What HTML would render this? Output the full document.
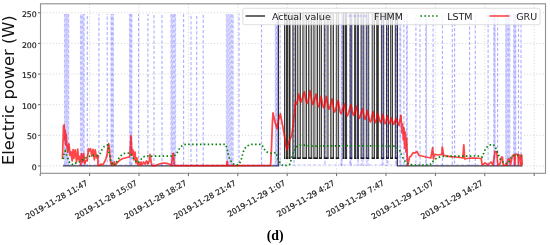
<!DOCTYPE html>
<html><head><meta charset="utf-8"><style>
html,body{margin:0;padding:0;background:#fff;}
svg{display:block;}
.t{font-family:"DejaVu Sans","Liberation Sans",sans-serif;font-size:7.8px;fill:#1a1a1a;stroke:#1a1a1a;stroke-width:0.18px;}
.yl{font-family:"DejaVu Sans","Liberation Sans",sans-serif;font-size:16.3px;fill:#111;}
.lg{font-family:"DejaVu Sans","Liberation Sans",sans-serif;font-size:9.5px;fill:#222;}
.cap{font-family:"Liberation Serif","DejaVu Serif",serif;font-size:13.8px;font-weight:bold;fill:#000;}
</style></head><body>
<svg width="550" height="245" viewBox="0 0 550 245">
<rect width="550" height="245" fill="#fff"/>
<path d="M89.6 4.0V173.4M139.0 4.0V173.4M188.4 4.0V173.4M237.8 4.0V173.4M287.2 4.0V173.4M336.6 4.0V173.4M386.0 4.0V173.4M435.4 4.0V173.4M484.8 4.0V173.4M534.2 4.0V173.4M40.4 165.9H545.5M40.4 135.3H545.5M40.4 104.7H545.5M40.4 74.1H545.5M40.4 43.4H545.5M40.4 12.8H545.5" stroke="#cdcdcd" stroke-width="0.8" stroke-dasharray="1.1 2" fill="none"/>
<path d="M63 165.9H278.4V12.8H397.4V165.9H522.5" stroke="#444" stroke-width="1.3" fill="none"/>
<rect x="278.45" y="12.8" width="0.05" height="145.4" fill="#3a3a3a" stroke="#2a2a2a" stroke-width="0.9"/>
<path d="M278.0 158.2H278.9" stroke="#1a1a1a" stroke-width="1.5"/>
<rect x="284.55" y="12.8" width="0.30" height="145.4" fill="#3a3a3a" stroke="#2a2a2a" stroke-width="0.9"/>
<path d="M284.1 158.2H285.3" stroke="#1a1a1a" stroke-width="1.5"/>
<rect x="286.45" y="12.8" width="1.20" height="145.4" fill="#3a3a3a" stroke="#2a2a2a" stroke-width="0.9"/>
<path d="M286.0 158.2H288.1" stroke="#1a1a1a" stroke-width="1.5"/>
<rect x="289.15" y="12.8" width="0.90" height="145.4" fill="#3a3a3a" stroke="#2a2a2a" stroke-width="0.9"/>
<path d="M288.7 158.2H290.5" stroke="#1a1a1a" stroke-width="1.5"/>
<rect x="292.85" y="12.8" width="2.70" height="145.4" fill="#b4b4b4" stroke="#2a2a2a" stroke-width="0.9"/>
<path d="M292.4 158.2H296.0" stroke="#1a1a1a" stroke-width="1.5"/>
<rect x="297.25" y="12.8" width="3.10" height="145.4" fill="#b4b4b4" stroke="#2a2a2a" stroke-width="0.9"/>
<path d="M296.8 158.2H300.8" stroke="#1a1a1a" stroke-width="1.5"/>
<rect x="302.85" y="12.8" width="3.70" height="145.4" fill="#b4b4b4" stroke="#2a2a2a" stroke-width="0.9"/>
<path d="M302.4 158.2H307.0" stroke="#1a1a1a" stroke-width="1.5"/>
<rect x="308.65" y="12.8" width="3.10" height="145.4" fill="#b4b4b4" stroke="#2a2a2a" stroke-width="0.9"/>
<path d="M308.2 158.2H312.2" stroke="#1a1a1a" stroke-width="1.5"/>
<rect x="313.85" y="12.8" width="3.60" height="145.4" fill="#b4b4b4" stroke="#2a2a2a" stroke-width="0.9"/>
<path d="M313.4 158.2H317.9" stroke="#1a1a1a" stroke-width="1.5"/>
<rect x="319.35" y="12.8" width="2.20" height="145.4" fill="#b4b4b4" stroke="#2a2a2a" stroke-width="0.9"/>
<path d="M318.9 158.2H322.0" stroke="#1a1a1a" stroke-width="1.5"/>
<rect x="324.25" y="12.8" width="3.80" height="145.4" fill="#b4b4b4" stroke="#2a2a2a" stroke-width="0.9"/>
<path d="M323.8 158.2H328.5" stroke="#1a1a1a" stroke-width="1.5"/>
<rect x="330.75" y="12.8" width="2.70" height="145.4" fill="#b4b4b4" stroke="#2a2a2a" stroke-width="0.9"/>
<path d="M330.3 158.2H333.9" stroke="#1a1a1a" stroke-width="1.5"/>
<rect x="336.25" y="12.8" width="2.40" height="145.4" fill="#b4b4b4" stroke="#2a2a2a" stroke-width="0.9"/>
<path d="M335.8 158.2H339.1" stroke="#1a1a1a" stroke-width="1.5"/>
<rect x="343.05" y="12.8" width="0.90" height="145.4" fill="#3a3a3a" stroke="#2a2a2a" stroke-width="0.9"/>
<path d="M342.6 158.2H344.4" stroke="#1a1a1a" stroke-width="1.5"/>
<rect x="345.45" y="12.8" width="1.20" height="145.4" fill="#3a3a3a" stroke="#2a2a2a" stroke-width="0.9"/>
<path d="M345.0 158.2H347.1" stroke="#1a1a1a" stroke-width="1.5"/>
<rect x="350.05" y="12.8" width="1.80" height="145.4" fill="#b4b4b4" stroke="#2a2a2a" stroke-width="0.9"/>
<path d="M349.6 158.2H352.3" stroke="#1a1a1a" stroke-width="1.5"/>
<rect x="354.65" y="12.8" width="1.20" height="145.4" fill="#3a3a3a" stroke="#2a2a2a" stroke-width="0.9"/>
<path d="M354.2 158.2H356.3" stroke="#1a1a1a" stroke-width="1.5"/>
<rect x="357.65" y="12.8" width="0.70" height="145.4" fill="#3a3a3a" stroke="#2a2a2a" stroke-width="0.9"/>
<path d="M357.2 158.2H358.8" stroke="#1a1a1a" stroke-width="1.5"/>
<rect x="361.05" y="12.8" width="2.80" height="145.4" fill="#b4b4b4" stroke="#2a2a2a" stroke-width="0.9"/>
<path d="M360.6 158.2H364.3" stroke="#1a1a1a" stroke-width="1.5"/>
<rect x="366.25" y="12.8" width="2.50" height="145.4" fill="#b4b4b4" stroke="#2a2a2a" stroke-width="0.9"/>
<path d="M365.8 158.2H369.2" stroke="#1a1a1a" stroke-width="1.5"/>
<rect x="372.15" y="12.8" width="2.40" height="145.4" fill="#b4b4b4" stroke="#2a2a2a" stroke-width="0.9"/>
<path d="M371.7 158.2H375.0" stroke="#1a1a1a" stroke-width="1.5"/>
<rect x="376.75" y="12.8" width="1.50" height="145.4" fill="#3a3a3a" stroke="#2a2a2a" stroke-width="0.9"/>
<path d="M376.3 158.2H378.7" stroke="#1a1a1a" stroke-width="1.5"/>
<rect x="381.35" y="12.8" width="2.40" height="145.4" fill="#b4b4b4" stroke="#2a2a2a" stroke-width="0.9"/>
<path d="M380.9 158.2H384.2" stroke="#1a1a1a" stroke-width="1.5"/>
<rect x="386.45" y="12.8" width="2.10" height="145.4" fill="#b4b4b4" stroke="#2a2a2a" stroke-width="0.9"/>
<path d="M386.0 158.2H389.0" stroke="#1a1a1a" stroke-width="1.5"/>
<rect x="390.65" y="12.8" width="1.90" height="145.4" fill="#b4b4b4" stroke="#2a2a2a" stroke-width="0.9"/>
<path d="M390.2 158.2H393.0" stroke="#1a1a1a" stroke-width="1.5"/>
<rect x="395.25" y="12.8" width="2.20" height="145.4" fill="#b4b4b4" stroke="#2a2a2a" stroke-width="0.9"/>
<path d="M394.8 158.2H397.9" stroke="#1a1a1a" stroke-width="1.5"/>
<path d="M63 164.9H522.5" stroke="#0000ff" stroke-opacity="0.22" stroke-width="1" stroke-dasharray="3.2 1.9"/>
<rect x="64.0" y="14.0" width="5.2" height="151.9" fill="#0000ff" fill-opacity="0.08"/>
<rect x="80.0" y="14.0" width="4.7" height="151.9" fill="#0000ff" fill-opacity="0.08"/>
<rect x="110.5" y="14.0" width="3.4" height="151.9" fill="#0000ff" fill-opacity="0.08"/>
<rect x="129.0" y="14.0" width="3.4" height="151.9" fill="#0000ff" fill-opacity="0.08"/>
<rect x="170.4" y="14.0" width="5.6" height="151.9" fill="#0000ff" fill-opacity="0.08"/>
<rect x="225.9" y="14.0" width="7.8" height="151.9" fill="#0000ff" fill-opacity="0.08"/>
<rect x="274.8" y="14.0" width="3.2" height="151.9" fill="#0000ff" fill-opacity="0.08"/>
<rect x="399.3" y="14.0" width="2.0" height="151.9" fill="#0000ff" fill-opacity="0.08"/>
<rect x="406.0" y="14.0" width="1.8" height="151.9" fill="#0000ff" fill-opacity="0.08"/>
<rect x="425.2" y="14.0" width="1.8" height="151.9" fill="#0000ff" fill-opacity="0.08"/>
<rect x="493.3" y="14.0" width="2.3" height="151.9" fill="#0000ff" fill-opacity="0.08"/>
<rect x="505.2" y="14.0" width="5.1" height="151.9" fill="#0000ff" fill-opacity="0.08"/>
<rect x="513.2" y="14.0" width="3.1" height="151.9" fill="#0000ff" fill-opacity="0.08"/>
<path d="M87.3 165.9V14.0" stroke="#0000ff" stroke-opacity="0.32" stroke-width="1.1" stroke-dasharray="3.2 1.9" stroke-dashoffset="1.2"/>
<path d="M98.9 165.9V14.0" stroke="#0000ff" stroke-opacity="0.32" stroke-width="1.1" stroke-dasharray="3.2 1.9" stroke-dashoffset="2.7"/>
<path d="M107.2 165.9V14.0" stroke="#0000ff" stroke-opacity="0.32" stroke-width="1.1" stroke-dasharray="3.2 1.9" stroke-dashoffset="1.8"/>
<path d="M138.6 165.9V14.0" stroke="#0000ff" stroke-opacity="0.32" stroke-width="1.1" stroke-dasharray="3.2 1.9" stroke-dashoffset="3.0"/>
<path d="M147.9 165.9V14.0" stroke="#0000ff" stroke-opacity="0.32" stroke-width="1.1" stroke-dasharray="3.2 1.9" stroke-dashoffset="3.1"/>
<path d="M154.0 165.9V14.0" stroke="#0000ff" stroke-opacity="0.32" stroke-width="1.1" stroke-dasharray="3.2 1.9" stroke-dashoffset="0.3"/>
<path d="M162.0 165.9V14.0" stroke="#0000ff" stroke-opacity="0.32" stroke-width="1.1" stroke-dasharray="3.2 1.9" stroke-dashoffset="0.1"/>
<path d="M183.6 165.9V14.0" stroke="#0000ff" stroke-opacity="0.32" stroke-width="1.1" stroke-dasharray="3.2 1.9" stroke-dashoffset="4.2"/>
<path d="M191.0 165.9V14.0" stroke="#0000ff" stroke-opacity="0.32" stroke-width="1.1" stroke-dasharray="3.2 1.9" stroke-dashoffset="1.3"/>
<path d="M196.7 165.9V14.0" stroke="#0000ff" stroke-opacity="0.32" stroke-width="1.1" stroke-dasharray="3.2 1.9" stroke-dashoffset="1.2"/>
<path d="M203.2 165.9V14.0" stroke="#0000ff" stroke-opacity="0.32" stroke-width="1.1" stroke-dasharray="3.2 1.9" stroke-dashoffset="5.0"/>
<path d="M239.0 165.9V14.0" stroke="#0000ff" stroke-opacity="0.32" stroke-width="1.1" stroke-dasharray="3.2 1.9" stroke-dashoffset="2.4"/>
<path d="M261.5 165.9V14.0" stroke="#0000ff" stroke-opacity="0.32" stroke-width="1.1" stroke-dasharray="3.2 1.9" stroke-dashoffset="4.2"/>
<path d="M294.0 165.9V14.0" stroke="#0000ff" stroke-opacity="0.32" stroke-width="1.1" stroke-dasharray="3.2 1.9" stroke-dashoffset="2.4"/>
<path d="M325.0 165.9V14.0" stroke="#0000ff" stroke-opacity="0.32" stroke-width="1.1" stroke-dasharray="3.2 1.9" stroke-dashoffset="3.2"/>
<path d="M342.0 165.9V14.0" stroke="#0000ff" stroke-opacity="0.32" stroke-width="1.1" stroke-dasharray="3.2 1.9" stroke-dashoffset="0.8"/>
<path d="M350.0 165.9V14.0" stroke="#0000ff" stroke-opacity="0.32" stroke-width="1.1" stroke-dasharray="3.2 1.9" stroke-dashoffset="3.2"/>
<path d="M403.9 165.9V14.0" stroke="#0000ff" stroke-opacity="0.32" stroke-width="1.1" stroke-dasharray="3.2 1.9" stroke-dashoffset="4.3"/>
<path d="M415.9 165.9V14.0" stroke="#0000ff" stroke-opacity="0.32" stroke-width="1.1" stroke-dasharray="3.2 1.9" stroke-dashoffset="2.6"/>
<path d="M420.0 165.9V14.0" stroke="#0000ff" stroke-opacity="0.32" stroke-width="1.1" stroke-dasharray="3.2 1.9" stroke-dashoffset="3.7"/>
<path d="M433.1 165.9V14.0" stroke="#0000ff" stroke-opacity="0.32" stroke-width="1.1" stroke-dasharray="3.2 1.9" stroke-dashoffset="3.4"/>
<path d="M442.4 165.9V14.0" stroke="#0000ff" stroke-opacity="0.32" stroke-width="1.1" stroke-dasharray="3.2 1.9" stroke-dashoffset="0.3"/>
<path d="M452.3 165.9V14.0" stroke="#0000ff" stroke-opacity="0.32" stroke-width="1.1" stroke-dasharray="3.2 1.9" stroke-dashoffset="3.8"/>
<path d="M454.6 165.9V14.0" stroke="#0000ff" stroke-opacity="0.32" stroke-width="1.1" stroke-dasharray="3.2 1.9" stroke-dashoffset="3.0"/>
<path d="M469.6 165.9V14.0" stroke="#0000ff" stroke-opacity="0.32" stroke-width="1.1" stroke-dasharray="3.2 1.9" stroke-dashoffset="1.5"/>
<path d="M475.3 165.9V14.0" stroke="#0000ff" stroke-opacity="0.32" stroke-width="1.1" stroke-dasharray="3.2 1.9" stroke-dashoffset="0.2"/>
<path d="M488.1 165.9V14.0" stroke="#0000ff" stroke-opacity="0.32" stroke-width="1.1" stroke-dasharray="3.2 1.9" stroke-dashoffset="4.3"/>
<path d="M497.6 165.9V14.0" stroke="#0000ff" stroke-opacity="0.32" stroke-width="1.1" stroke-dasharray="3.2 1.9" stroke-dashoffset="2.4"/>
<path d="M518.5 165.9V14.0" stroke="#0000ff" stroke-opacity="0.32" stroke-width="1.1" stroke-dasharray="3.2 1.9" stroke-dashoffset="3.6"/>
<path d="M521.0 165.9V14.0" stroke="#0000ff" stroke-opacity="0.32" stroke-width="1.1" stroke-dasharray="3.2 1.9" stroke-dashoffset="4.4"/>
<path d="M64.4 165.9V14.0" stroke="#0000ff" stroke-opacity="0.15" stroke-width="1.1" stroke-dasharray="3.2 1.9" stroke-dashoffset="3.6"/>
<path d="M65.1 165.9V14.0" stroke="#0000ff" stroke-opacity="0.15" stroke-width="1.1" stroke-dasharray="3.2 1.9" stroke-dashoffset="4.6"/>
<path d="M65.9 165.9V14.0" stroke="#0000ff" stroke-opacity="0.15" stroke-width="1.1" stroke-dasharray="3.2 1.9" stroke-dashoffset="2.0"/>
<path d="M66.6 165.9V14.0" stroke="#0000ff" stroke-opacity="0.15" stroke-width="1.1" stroke-dasharray="3.2 1.9" stroke-dashoffset="4.0"/>
<path d="M67.3 165.9V14.0" stroke="#0000ff" stroke-opacity="0.15" stroke-width="1.1" stroke-dasharray="3.2 1.9" stroke-dashoffset="2.2"/>
<path d="M68.1 165.9V14.0" stroke="#0000ff" stroke-opacity="0.15" stroke-width="1.1" stroke-dasharray="3.2 1.9" stroke-dashoffset="4.7"/>
<path d="M68.8 165.9V14.0" stroke="#0000ff" stroke-opacity="0.15" stroke-width="1.1" stroke-dasharray="3.2 1.9" stroke-dashoffset="4.4"/>
<path d="M80.4 165.9V14.0" stroke="#0000ff" stroke-opacity="0.15" stroke-width="1.1" stroke-dasharray="3.2 1.9" stroke-dashoffset="0.5"/>
<path d="M81.2 165.9V14.0" stroke="#0000ff" stroke-opacity="0.15" stroke-width="1.1" stroke-dasharray="3.2 1.9" stroke-dashoffset="0.7"/>
<path d="M82.0 165.9V14.0" stroke="#0000ff" stroke-opacity="0.15" stroke-width="1.1" stroke-dasharray="3.2 1.9" stroke-dashoffset="1.1"/>
<path d="M82.7 165.9V14.0" stroke="#0000ff" stroke-opacity="0.15" stroke-width="1.1" stroke-dasharray="3.2 1.9" stroke-dashoffset="4.8"/>
<path d="M83.5 165.9V14.0" stroke="#0000ff" stroke-opacity="0.15" stroke-width="1.1" stroke-dasharray="3.2 1.9" stroke-dashoffset="2.2"/>
<path d="M84.3 165.9V14.0" stroke="#0000ff" stroke-opacity="0.15" stroke-width="1.1" stroke-dasharray="3.2 1.9" stroke-dashoffset="3.1"/>
<path d="M110.9 165.9V14.0" stroke="#0000ff" stroke-opacity="0.15" stroke-width="1.1" stroke-dasharray="3.2 1.9" stroke-dashoffset="1.5"/>
<path d="M111.5 165.9V14.0" stroke="#0000ff" stroke-opacity="0.15" stroke-width="1.1" stroke-dasharray="3.2 1.9" stroke-dashoffset="2.5"/>
<path d="M112.2 165.9V14.0" stroke="#0000ff" stroke-opacity="0.15" stroke-width="1.1" stroke-dasharray="3.2 1.9" stroke-dashoffset="1.9"/>
<path d="M112.8 165.9V14.0" stroke="#0000ff" stroke-opacity="0.15" stroke-width="1.1" stroke-dasharray="3.2 1.9" stroke-dashoffset="1.8"/>
<path d="M113.5 165.9V14.0" stroke="#0000ff" stroke-opacity="0.15" stroke-width="1.1" stroke-dasharray="3.2 1.9" stroke-dashoffset="2.9"/>
<path d="M129.4 165.9V14.0" stroke="#0000ff" stroke-opacity="0.15" stroke-width="1.1" stroke-dasharray="3.2 1.9" stroke-dashoffset="2.9"/>
<path d="M130.1 165.9V14.0" stroke="#0000ff" stroke-opacity="0.15" stroke-width="1.1" stroke-dasharray="3.2 1.9" stroke-dashoffset="4.5"/>
<path d="M130.7 165.9V14.0" stroke="#0000ff" stroke-opacity="0.15" stroke-width="1.1" stroke-dasharray="3.2 1.9" stroke-dashoffset="3.4"/>
<path d="M131.3 165.9V14.0" stroke="#0000ff" stroke-opacity="0.15" stroke-width="1.1" stroke-dasharray="3.2 1.9" stroke-dashoffset="4.6"/>
<path d="M132.0 165.9V14.0" stroke="#0000ff" stroke-opacity="0.15" stroke-width="1.1" stroke-dasharray="3.2 1.9" stroke-dashoffset="4.3"/>
<path d="M170.8 165.9V14.0" stroke="#0000ff" stroke-opacity="0.15" stroke-width="1.1" stroke-dasharray="3.2 1.9" stroke-dashoffset="5.0"/>
<path d="M171.6 165.9V14.0" stroke="#0000ff" stroke-opacity="0.15" stroke-width="1.1" stroke-dasharray="3.2 1.9" stroke-dashoffset="3.4"/>
<path d="M172.4 165.9V14.0" stroke="#0000ff" stroke-opacity="0.15" stroke-width="1.1" stroke-dasharray="3.2 1.9" stroke-dashoffset="0.8"/>
<path d="M173.2 165.9V14.0" stroke="#0000ff" stroke-opacity="0.15" stroke-width="1.1" stroke-dasharray="3.2 1.9" stroke-dashoffset="4.3"/>
<path d="M174.0 165.9V14.0" stroke="#0000ff" stroke-opacity="0.15" stroke-width="1.1" stroke-dasharray="3.2 1.9" stroke-dashoffset="4.8"/>
<path d="M174.8 165.9V14.0" stroke="#0000ff" stroke-opacity="0.15" stroke-width="1.1" stroke-dasharray="3.2 1.9" stroke-dashoffset="4.5"/>
<path d="M175.6 165.9V14.0" stroke="#0000ff" stroke-opacity="0.15" stroke-width="1.1" stroke-dasharray="3.2 1.9" stroke-dashoffset="2.8"/>
<path d="M226.3 165.9V14.0" stroke="#0000ff" stroke-opacity="0.15" stroke-width="1.1" stroke-dasharray="3.2 1.9" stroke-dashoffset="3.6"/>
<path d="M227.2 165.9V14.0" stroke="#0000ff" stroke-opacity="0.15" stroke-width="1.1" stroke-dasharray="3.2 1.9" stroke-dashoffset="1.1"/>
<path d="M228.0 165.9V14.0" stroke="#0000ff" stroke-opacity="0.15" stroke-width="1.1" stroke-dasharray="3.2 1.9" stroke-dashoffset="4.2"/>
<path d="M228.9 165.9V14.0" stroke="#0000ff" stroke-opacity="0.15" stroke-width="1.1" stroke-dasharray="3.2 1.9" stroke-dashoffset="2.9"/>
<path d="M229.8 165.9V14.0" stroke="#0000ff" stroke-opacity="0.15" stroke-width="1.1" stroke-dasharray="3.2 1.9" stroke-dashoffset="1.4"/>
<path d="M230.7 165.9V14.0" stroke="#0000ff" stroke-opacity="0.15" stroke-width="1.1" stroke-dasharray="3.2 1.9" stroke-dashoffset="0.3"/>
<path d="M231.5 165.9V14.0" stroke="#0000ff" stroke-opacity="0.15" stroke-width="1.1" stroke-dasharray="3.2 1.9" stroke-dashoffset="4.3"/>
<path d="M232.4 165.9V14.0" stroke="#0000ff" stroke-opacity="0.15" stroke-width="1.1" stroke-dasharray="3.2 1.9" stroke-dashoffset="4.9"/>
<path d="M233.3 165.9V14.0" stroke="#0000ff" stroke-opacity="0.15" stroke-width="1.1" stroke-dasharray="3.2 1.9" stroke-dashoffset="0.4"/>
<path d="M275.2 165.9V14.0" stroke="#0000ff" stroke-opacity="0.15" stroke-width="1.1" stroke-dasharray="3.2 1.9" stroke-dashoffset="4.0"/>
<path d="M275.8 165.9V14.0" stroke="#0000ff" stroke-opacity="0.15" stroke-width="1.1" stroke-dasharray="3.2 1.9" stroke-dashoffset="2.1"/>
<path d="M276.4 165.9V14.0" stroke="#0000ff" stroke-opacity="0.15" stroke-width="1.1" stroke-dasharray="3.2 1.9" stroke-dashoffset="0.8"/>
<path d="M277.0 165.9V14.0" stroke="#0000ff" stroke-opacity="0.15" stroke-width="1.1" stroke-dasharray="3.2 1.9" stroke-dashoffset="1.5"/>
<path d="M277.6 165.9V14.0" stroke="#0000ff" stroke-opacity="0.15" stroke-width="1.1" stroke-dasharray="3.2 1.9" stroke-dashoffset="3.8"/>
<path d="M280.2 165.9V14.0" stroke="#0000ff" stroke-opacity="0.15" stroke-width="1.1" stroke-dasharray="3.2 1.9" stroke-dashoffset="4.4"/>
<path d="M280.2 165.9V14.0" stroke="#0000ff" stroke-opacity="0.15" stroke-width="1.1" stroke-dasharray="3.2 1.9" stroke-dashoffset="0.2"/>
<path d="M340.9 165.9V14.0" stroke="#0000ff" stroke-opacity="0.15" stroke-width="1.1" stroke-dasharray="3.2 1.9" stroke-dashoffset="3.1"/>
<path d="M341.4 165.9V14.0" stroke="#0000ff" stroke-opacity="0.15" stroke-width="1.1" stroke-dasharray="3.2 1.9" stroke-dashoffset="0.2"/>
<path d="M341.9 165.9V14.0" stroke="#0000ff" stroke-opacity="0.15" stroke-width="1.1" stroke-dasharray="3.2 1.9" stroke-dashoffset="3.6"/>
<path d="M350.4 165.9V14.0" stroke="#0000ff" stroke-opacity="0.15" stroke-width="1.1" stroke-dasharray="3.2 1.9" stroke-dashoffset="1.7"/>
<path d="M351.0 165.9V14.0" stroke="#0000ff" stroke-opacity="0.15" stroke-width="1.1" stroke-dasharray="3.2 1.9" stroke-dashoffset="4.4"/>
<path d="M351.5 165.9V14.0" stroke="#0000ff" stroke-opacity="0.15" stroke-width="1.1" stroke-dasharray="3.2 1.9" stroke-dashoffset="4.9"/>
<path d="M357.8 165.9V14.0" stroke="#0000ff" stroke-opacity="0.15" stroke-width="1.1" stroke-dasharray="3.2 1.9" stroke-dashoffset="2.5"/>
<path d="M358.0 165.9V14.0" stroke="#0000ff" stroke-opacity="0.15" stroke-width="1.1" stroke-dasharray="3.2 1.9" stroke-dashoffset="5.0"/>
<path d="M358.2 165.9V14.0" stroke="#0000ff" stroke-opacity="0.15" stroke-width="1.1" stroke-dasharray="3.2 1.9" stroke-dashoffset="1.5"/>
<path d="M361.4 165.9V14.0" stroke="#0000ff" stroke-opacity="0.15" stroke-width="1.1" stroke-dasharray="3.2 1.9" stroke-dashoffset="0.4"/>
<path d="M362.1 165.9V14.0" stroke="#0000ff" stroke-opacity="0.15" stroke-width="1.1" stroke-dasharray="3.2 1.9" stroke-dashoffset="3.0"/>
<path d="M362.7 165.9V14.0" stroke="#0000ff" stroke-opacity="0.15" stroke-width="1.1" stroke-dasharray="3.2 1.9" stroke-dashoffset="0.2"/>
<path d="M363.4 165.9V14.0" stroke="#0000ff" stroke-opacity="0.15" stroke-width="1.1" stroke-dasharray="3.2 1.9" stroke-dashoffset="1.0"/>
<path d="M366.4 165.9V14.0" stroke="#0000ff" stroke-opacity="0.15" stroke-width="1.1" stroke-dasharray="3.2 1.9" stroke-dashoffset="2.0"/>
<path d="M367.1 165.9V14.0" stroke="#0000ff" stroke-opacity="0.15" stroke-width="1.1" stroke-dasharray="3.2 1.9" stroke-dashoffset="3.1"/>
<path d="M367.7 165.9V14.0" stroke="#0000ff" stroke-opacity="0.15" stroke-width="1.1" stroke-dasharray="3.2 1.9" stroke-dashoffset="0.8"/>
<path d="M368.4 165.9V14.0" stroke="#0000ff" stroke-opacity="0.15" stroke-width="1.1" stroke-dasharray="3.2 1.9" stroke-dashoffset="0.2"/>
<path d="M381.9 165.9V14.0" stroke="#0000ff" stroke-opacity="0.15" stroke-width="1.1" stroke-dasharray="3.2 1.9" stroke-dashoffset="4.3"/>
<path d="M382.4 165.9V14.0" stroke="#0000ff" stroke-opacity="0.15" stroke-width="1.1" stroke-dasharray="3.2 1.9" stroke-dashoffset="1.6"/>
<path d="M382.9 165.9V14.0" stroke="#0000ff" stroke-opacity="0.15" stroke-width="1.1" stroke-dasharray="3.2 1.9" stroke-dashoffset="4.8"/>
<path d="M383.4 165.9V14.0" stroke="#0000ff" stroke-opacity="0.15" stroke-width="1.1" stroke-dasharray="3.2 1.9" stroke-dashoffset="4.5"/>
<path d="M386.6 165.9V14.0" stroke="#0000ff" stroke-opacity="0.15" stroke-width="1.1" stroke-dasharray="3.2 1.9" stroke-dashoffset="1.9"/>
<path d="M387.1 165.9V14.0" stroke="#0000ff" stroke-opacity="0.15" stroke-width="1.1" stroke-dasharray="3.2 1.9" stroke-dashoffset="2.3"/>
<path d="M387.7 165.9V14.0" stroke="#0000ff" stroke-opacity="0.15" stroke-width="1.1" stroke-dasharray="3.2 1.9" stroke-dashoffset="2.6"/>
<path d="M388.2 165.9V14.0" stroke="#0000ff" stroke-opacity="0.15" stroke-width="1.1" stroke-dasharray="3.2 1.9" stroke-dashoffset="3.2"/>
<path d="M395.6 165.9V14.0" stroke="#0000ff" stroke-opacity="0.15" stroke-width="1.1" stroke-dasharray="3.2 1.9" stroke-dashoffset="3.0"/>
<path d="M396.1 165.9V14.0" stroke="#0000ff" stroke-opacity="0.15" stroke-width="1.1" stroke-dasharray="3.2 1.9" stroke-dashoffset="2.8"/>
<path d="M396.5 165.9V14.0" stroke="#0000ff" stroke-opacity="0.15" stroke-width="1.1" stroke-dasharray="3.2 1.9" stroke-dashoffset="3.1"/>
<path d="M397.0 165.9V14.0" stroke="#0000ff" stroke-opacity="0.15" stroke-width="1.1" stroke-dasharray="3.2 1.9" stroke-dashoffset="4.7"/>
<path d="M399.7 165.9V14.0" stroke="#0000ff" stroke-opacity="0.15" stroke-width="1.1" stroke-dasharray="3.2 1.9" stroke-dashoffset="2.5"/>
<path d="M400.3 165.9V14.0" stroke="#0000ff" stroke-opacity="0.15" stroke-width="1.1" stroke-dasharray="3.2 1.9" stroke-dashoffset="2.2"/>
<path d="M400.9 165.9V14.0" stroke="#0000ff" stroke-opacity="0.15" stroke-width="1.1" stroke-dasharray="3.2 1.9" stroke-dashoffset="3.6"/>
<path d="M406.4 165.9V14.0" stroke="#0000ff" stroke-opacity="0.15" stroke-width="1.1" stroke-dasharray="3.2 1.9" stroke-dashoffset="1.2"/>
<path d="M406.9 165.9V14.0" stroke="#0000ff" stroke-opacity="0.15" stroke-width="1.1" stroke-dasharray="3.2 1.9" stroke-dashoffset="1.5"/>
<path d="M407.4 165.9V14.0" stroke="#0000ff" stroke-opacity="0.15" stroke-width="1.1" stroke-dasharray="3.2 1.9" stroke-dashoffset="4.9"/>
<path d="M425.6 165.9V14.0" stroke="#0000ff" stroke-opacity="0.15" stroke-width="1.1" stroke-dasharray="3.2 1.9" stroke-dashoffset="2.6"/>
<path d="M426.1 165.9V14.0" stroke="#0000ff" stroke-opacity="0.15" stroke-width="1.1" stroke-dasharray="3.2 1.9" stroke-dashoffset="2.7"/>
<path d="M426.6 165.9V14.0" stroke="#0000ff" stroke-opacity="0.15" stroke-width="1.1" stroke-dasharray="3.2 1.9" stroke-dashoffset="0.1"/>
<path d="M493.7 165.9V14.0" stroke="#0000ff" stroke-opacity="0.15" stroke-width="1.1" stroke-dasharray="3.2 1.9" stroke-dashoffset="2.1"/>
<path d="M494.2 165.9V14.0" stroke="#0000ff" stroke-opacity="0.15" stroke-width="1.1" stroke-dasharray="3.2 1.9" stroke-dashoffset="2.9"/>
<path d="M494.7 165.9V14.0" stroke="#0000ff" stroke-opacity="0.15" stroke-width="1.1" stroke-dasharray="3.2 1.9" stroke-dashoffset="0.1"/>
<path d="M495.2 165.9V14.0" stroke="#0000ff" stroke-opacity="0.15" stroke-width="1.1" stroke-dasharray="3.2 1.9" stroke-dashoffset="3.1"/>
<path d="M505.6 165.9V14.0" stroke="#0000ff" stroke-opacity="0.15" stroke-width="1.1" stroke-dasharray="3.2 1.9" stroke-dashoffset="3.2"/>
<path d="M506.3 165.9V14.0" stroke="#0000ff" stroke-opacity="0.15" stroke-width="1.1" stroke-dasharray="3.2 1.9" stroke-dashoffset="0.3"/>
<path d="M507.0 165.9V14.0" stroke="#0000ff" stroke-opacity="0.15" stroke-width="1.1" stroke-dasharray="3.2 1.9" stroke-dashoffset="3.1"/>
<path d="M507.8 165.9V14.0" stroke="#0000ff" stroke-opacity="0.15" stroke-width="1.1" stroke-dasharray="3.2 1.9" stroke-dashoffset="2.3"/>
<path d="M508.5 165.9V14.0" stroke="#0000ff" stroke-opacity="0.15" stroke-width="1.1" stroke-dasharray="3.2 1.9" stroke-dashoffset="3.4"/>
<path d="M509.2 165.9V14.0" stroke="#0000ff" stroke-opacity="0.15" stroke-width="1.1" stroke-dasharray="3.2 1.9" stroke-dashoffset="1.8"/>
<path d="M509.9 165.9V14.0" stroke="#0000ff" stroke-opacity="0.15" stroke-width="1.1" stroke-dasharray="3.2 1.9" stroke-dashoffset="3.5"/>
<path d="M513.6 165.9V14.0" stroke="#0000ff" stroke-opacity="0.15" stroke-width="1.1" stroke-dasharray="3.2 1.9" stroke-dashoffset="3.7"/>
<path d="M514.2 165.9V14.0" stroke="#0000ff" stroke-opacity="0.15" stroke-width="1.1" stroke-dasharray="3.2 1.9" stroke-dashoffset="0.1"/>
<path d="M514.8 165.9V14.0" stroke="#0000ff" stroke-opacity="0.15" stroke-width="1.1" stroke-dasharray="3.2 1.9" stroke-dashoffset="0.3"/>
<path d="M515.3 165.9V14.0" stroke="#0000ff" stroke-opacity="0.15" stroke-width="1.1" stroke-dasharray="3.2 1.9" stroke-dashoffset="3.4"/>
<path d="M515.9 165.9V14.0" stroke="#0000ff" stroke-opacity="0.15" stroke-width="1.1" stroke-dasharray="3.2 1.9" stroke-dashoffset="4.8"/>
<path d="M62.5 159.0 62.9 146.0 63.5 126.0 64.1 124.8 64.6 140.0 65.1 130.0 65.6 145.0 66.1 134.0 66.6 142.0 67.7 152.1 69.0 144.0 70.1 155.6 71.0 151.7 72.2 161.0 73.1 149.6 73.9 158.4 75.2 149.8 76.5 162.1 77.7 149.2 78.6 159.9 79.7 156.5 80.7 165.0 81.5 153.6 82.5 162.1 83.7 153.6 84.8 163.9 85.8 160.6 87.2 160.6 88.5 148.8 89.5 150.9 90.5 148.7 91.8 156.2 93.0 149.3 94.4 159.8 95.2 149.8 96.6 157.9 98.0 155.4 97.9 165.0 98.5 165.5 100.0 165.0 101.0 164.0 102.0 165.0 102.9 164.5 104.5 162.0 106.0 158.5 107.2 154.0 108.0 148.0 108.6 143.6 109.2 146.0 109.9 155.0 110.6 162.0 111.4 165.0 112.5 163.0 113.5 165.0 114.5 162.0 115.5 165.0 117.0 163.0 118.5 161.5 119.3 160.5 121.0 159.5 123.0 158.5 125.0 158.0 127.0 157.5 129.0 157.0 129.8 156.0 130.5 145.0 131.0 135.7 131.5 145.0 132.0 155.0 133.0 150.0 134.0 160.0 135.0 152.0 136.0 163.0 137.0 158.0 137.9 165.0 139.0 163.0 140.0 165.0 141.0 162.0 142.1 165.0 143.5 162.0 145.0 164.0 146.5 161.0 148.0 164.0 149.3 161.0 150.0 154.3 150.8 160.0 152.0 165.7 155.0 165.7 158.0 164.5 161.0 163.5 164.0 163.0 167.0 163.3 170.0 164.5 171.4 165.7 172.9 153.6 173.5 153.6 174.3 165.7 226.6 165.7 227.1 161.4 227.6 165.7 270.6 165.4 271.4 150.0 272.3 125.0 273.0 112.9 275.0 122.0 277.0 128.6 278.5 120.0 280.4 114.0 282.5 125.0 284.9 138.7 286.0 146.0 287.1 150.0 288.2 144.0 289.3 141.0 290.5 138.0 291.6 136.5 293.5 122.0 294.6 111.9 295.4 102.2 296.3 104.4 297.2 102.2 298.6 94.1 300.0 99.9 300.9 102.1 301.8 99.9 304.3 91.9 306.2 101.1 307.1 103.3 308.0 101.1 310.0 90.7 312.0 102.2 312.9 104.4 313.8 102.2 316.1 94.1 317.7 104.5 318.6 106.7 319.5 104.5 321.1 96.4 322.8 105.7 323.7 107.9 324.6 105.7 326.3 96.5 328.1 106.9 329.0 109.1 329.9 106.9 332.1 98.9 333.8 109.8 334.7 112.0 335.6 109.8 338.1 100.6 340.1 111.5 341.0 113.7 341.9 111.5 344.4 104.0 346.4 113.8 347.3 116.0 348.2 113.8 351.0 104.6 352.7 113.2 353.6 115.4 354.5 113.2 356.4 106.3 358.4 116.1 359.3 118.3 360.2 116.1 362.5 108.8 364.2 116.9 365.1 119.1 366.0 116.9 367.4 110.6 369.4 119.8 370.3 122.0 371.2 119.8 373.1 111.7 374.5 120.4 375.4 122.6 376.3 120.4 377.7 113.4 379.7 120.4 380.6 122.6 381.5 120.4 382.9 114.6 384.2 121.5 385.1 123.7 386.0 121.5 387.4 115.7 388.8 121.5 389.7 123.7 390.6 121.5 391.4 118.0 392.8 122.1 393.7 124.3 394.6 122.1 396.0 118.6 398.9 125.4 401.0 115.3 402.0 133.0 402.6 124.0 403.3 140.0 404.0 128.0 404.7 148.0 405.3 132.0 406.0 152.0 406.6 138.0 407.2 158.0 407.9 165.4 409.5 157.0 410.7 156.4 413.3 152.6 415.0 153.0 417.0 151.6 418.9 155.3 422.0 156.0 426.0 157.0 430.8 158.0 432.6 147.9 433.5 159.0 434.4 154.4 438.0 155.0 441.8 154.4 442.3 147.0 443.6 155.3 450.0 156.6 455.0 157.0 460.0 157.5 462.8 158.0 463.8 144.8 464.7 159.0 470.0 158.0 475.0 158.0 481.2 158.5 482.1 165.0 485.0 163.0 488.0 165.0 491.0 162.0 493.0 165.0 495.0 151.6 496.8 151.7 497.7 165.0 500.0 164.0 501.4 157.2 502.4 157.2 503.3 165.0 507.0 165.0 508.0 159.0 509.7 159.0 510.5 165.0 512.5 155.3 514.3 155.3 514.8 165.0 515.2 154.4 518.0 154.4 518.5 165.0 519.0 155.0 520.0 155.0 521.0 165.0 521.7 155.0 522.2 165.0" stroke="#ff0000" stroke-opacity="0.72" stroke-width="1.75" fill="none" stroke-linejoin="round"/>
<path d="M63.0 159.0 64.0 154.0 65.1 151.0 66.9 155.9 68.2 159.6 70.0 163.3 73.0 164.8 76.7 162.6 80.4 161.4 84.1 159.0 87.1 157.1 90.8 155.9 94.5 155.3 97.9 155.7 100.7 152.9 102.1 149.3 104.3 146.4 107.9 145.0 109.3 153.6 110.7 161.4 113.6 165.7 117.1 161.4 120.0 156.4 123.6 153.6 127.1 152.9 130.7 153.6 134.3 160.0 137.9 162.9 142.9 157.1 146.4 155.7 150.0 156.4 153.6 156.1 173.6 156.1 175.7 155.0 177.9 151.4 180.0 147.6 182.9 145.0 186.0 144.3 225.7 144.4 227.1 148.6 227.9 153.6 229.3 157.9 230.7 160.7 232.9 163.6 235.0 165.0 238.6 164.7 240.7 161.4 241.9 157.1 242.9 152.9 244.3 149.3 246.4 146.4 249.3 145.0 252.0 144.3 261.4 144.3 263.3 147.0 265.1 150.7 267.8 152.5 271.5 153.4 276.1 152.5 277.9 159.0 280.7 163.5 282.5 165.4 286.2 165.4 289.9 164.4 291.7 158.0 293.5 151.6 296.3 147.0 300.0 145.2 304.5 145.2 310.0 146.1 350.0 145.7 395.0 146.1 399.6 149.8 401.4 154.4 403.3 158.9 406.0 162.6 408.8 164.4 413.3 165.0 429.9 165.0 431.7 162.6 434.4 159.9 437.2 157.7 441.0 156.6 450.0 156.2 475.0 156.0 481.2 156.2 482.1 157.1 484.0 152.5 485.8 147.9 489.4 145.2 493.1 144.3 495.0 146.1 496.8 150.7 498.6 155.3 500.5 159.9 503.2 162.6 506.0 163.5 508.7 162.6 510.6 158.1 514.3 155.3 518.0 155.3 521.7 156.3" stroke="#008000" stroke-width="1.7" stroke-dasharray="1.5 2.4" fill="none"/>
<rect x="40.5" y="3.8" width="505" height="169.5" fill="none" stroke="#8f8f8f" stroke-width="1.1"/>
<path d="M40.2 173.6v2.5M89.6 173.6v2.5M139.0 173.6v2.5M188.4 173.6v2.5M237.8 173.6v2.5M287.2 173.6v2.5M336.6 173.6v2.5M386.0 173.6v2.5M435.4 173.6v2.5M484.8 173.6v2.5M534.2 173.6v2.5M40.2 165.9h-2.2M40.2 135.3h-2.2M40.2 104.7h-2.2M40.2 74.1h-2.2M40.2 43.4h-2.2M40.2 12.8h-2.2" stroke="#555" stroke-width="0.9"/>
<text x="36.8" y="170.0" text-anchor="end" class="t">0</text>
<text x="36.8" y="139.4" text-anchor="end" class="t">50</text>
<text x="36.8" y="108.8" text-anchor="end" class="t">100</text>
<text x="36.8" y="78.2" text-anchor="end" class="t">150</text>
<text x="36.8" y="47.5" text-anchor="end" class="t">200</text>
<text x="36.8" y="16.9" text-anchor="end" class="t">250</text>
<text transform="translate(88.4 184.4) rotate(-30)" text-anchor="end" class="t">2019-11-28 11:47</text>
<text transform="translate(137.8 184.4) rotate(-30)" text-anchor="end" class="t">2019-11-28 15:07</text>
<text transform="translate(187.2 184.4) rotate(-30)" text-anchor="end" class="t">2019-11-28 18:27</text>
<text transform="translate(236.6 184.4) rotate(-30)" text-anchor="end" class="t">2019-11-28 21:47</text>
<text transform="translate(286.0 184.4) rotate(-30)" text-anchor="end" class="t">2019-11-29 1:07</text>
<text transform="translate(335.4 184.4) rotate(-30)" text-anchor="end" class="t">2019-11-29 4:27</text>
<text transform="translate(384.8 184.4) rotate(-30)" text-anchor="end" class="t">2019-11-29 7:47</text>
<text transform="translate(434.2 184.4) rotate(-30)" text-anchor="end" class="t">2019-11-29 11:07</text>
<text transform="translate(483.6 184.4) rotate(-30)" text-anchor="end" class="t">2019-11-29 14:27</text>
<text transform="translate(14.3 90.2) rotate(-90)" text-anchor="middle" class="yl">Electric power (W)</text>
<rect x="242.8" y="8.3" width="297.2" height="16.4" rx="1.8" fill="#fff" fill-opacity="0.8" stroke="#d6d6d6" stroke-width="0.8"/>
<path d="M245.5 16H265" stroke="#444" stroke-width="1.6"/>
<text x="272" y="20.2" class="lg">Actual value</text>
<path d="M348 16H367.5" stroke="#0000ff" stroke-opacity="0.28" stroke-width="1.2" stroke-dasharray="3.2 1.9"/>
<text x="374" y="20.2" class="lg">FHMM</text>
<path d="M420.5 16H440" stroke="#008000" stroke-width="1.7" stroke-dasharray="1.5 2.4"/>
<text x="447.2" y="20.2" class="lg">LSTM</text>
<path d="M489.5 16H509.5" stroke="#ff0000" stroke-opacity="0.72" stroke-width="1.6"/>
<text x="516.2" y="20.2" class="lg">GRU</text>
<text x="275.2" y="239.9" text-anchor="middle" class="cap">(d)</text>
</svg>
</body></html>
